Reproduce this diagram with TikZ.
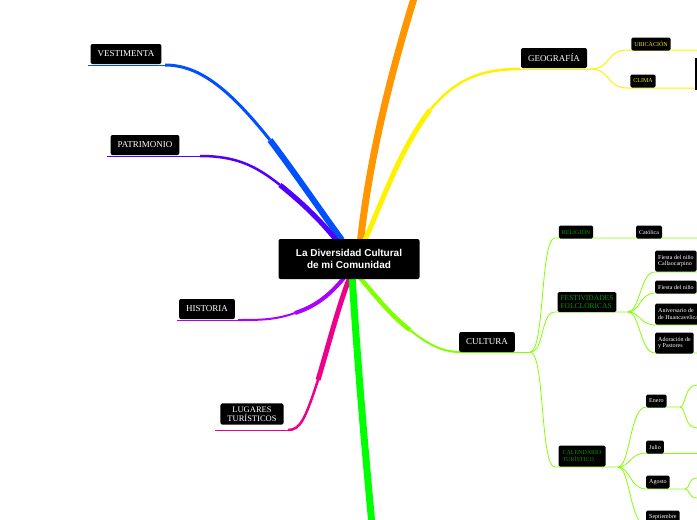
\documentclass[tikz,border=0pt]{standalone}
\usepackage{fontspec}
\setmainfont{Liberation Serif}
\setsansfont{Liberation Sans}
\begin{document}
\begin{tikzpicture}[x=1pt,y=-1pt,
 box/.style={fill=black,rounded corners=2pt,text=white,inner xsep=7pt,inner ysep=3pt,minimum height=20pt,align=center,font=\fontsize{9}{10}\selectfont},
 sbox/.style={fill=black,rounded corners=1.5pt,text=white,inner xsep=3pt,inner ysep=2pt,minimum height=13pt,align=left,font=\fontsize{6}{6.5}\selectfont},
 gbox/.style={sbox,text=green!60!black},
 ybox/.style={sbox,text=yellow!90!orange},
 thin/.style={line width=1pt}]
\useasboundingbox (0,0) rectangle (697,520);
\clip (0,0) rectangle (697,520);
\definecolor{cor}{RGB}{255,150,0}
\definecolor{cbl}{RGB}{0,80,255}
\definecolor{cpu}{RGB}{80,0,255}
\definecolor{cvi}{RGB}{170,0,255}
\definecolor{cli}{RGB}{130,255,0}
% main branches (tapered by two strokes)
\draw[cor,line width=7pt] (360,245) .. controls (370,150) and (395,60) .. (415,-5);
\draw[yellow,line width=5pt] (365,240) .. controls (385,195) and (400,150) .. (430,110);
\draw[yellow,line width=2.5pt] (430,110) .. controls (455,80) and (480,69) .. (520,69);
\draw[yellow,thin] (520,69) -- (590,69);
\draw[cbl,line width=6pt] (342,240) .. controls (320,210) and (300,180) .. (270,140);
\draw[cbl,line width=3pt] (270,140) .. controls (230,90) and (200,65) .. (165,65);
\draw[cbl,thin] (165,65) -- (88,65);
\draw[cpu,line width=5pt] (340,245) .. controls (325,225) and (305,205) .. (280,185);
\draw[cpu,line width=2.5pt] (280,185) .. controls (255,165) and (235,156) .. (200,156);
\draw[cpu,thin] (200,156) -- (107,156);
\draw[cvi,line width=4pt] (350,270) .. controls (335,290) and (320,305) .. (295,313);
\draw[cvi,line width=2pt] (295,313) .. controls (275,320) and (260,320) .. (238,320);
\draw[cvi,thin] (238,320) -- (177,320);
\draw[magenta,line width=5pt] (352,272) .. controls (340,300) and (330,340) .. (318,380);
\draw[magenta,line width=2.5pt] (318,380) .. controls (305,420) and (300,430) .. (288,430);
\draw[magenta,thin] (288,430) -- (215,430);
\draw[green,line width=7pt] (352,275) .. controls (358,370) and (365,450) .. (372,525);
\draw[cli,line width=4.5pt] (355,272) .. controls (375,295) and (390,315) .. (410,330);
\draw[cli,line width=2pt] (410,330) .. controls (425,342) and (440,352) .. (460,352);
\draw[cli,thin] (460,352) -- (530,352);
% center
\node[box,font=\sffamily\bfseries\fontsize{10}{12}\selectfont,inner xsep=9pt,minimum height=40pt,minimum width=141pt] (center) at (349,259) {La Diversidad Cultural\\de mi Comunidad};
% main nodes
\node[box] (vest) at (126,54) {VESTIMENTA};
\node[box] (patr) at (145,145) {PATRIMONIO};
\node[box] (hist) at (207,309) {HISTORIA};
\node[box,font=\fontsize{8.5}{9.5}\selectfont] (lug) at (252,414) {LUGARES\\TURÍSTICOS};
\node[box] (geo) at (554,58) {GEOGRAFÍA};
\node[box] (cult) at (487,342) {CULTURA};
% geography subtree
\begin{scope}[yellow,thin]
\draw (590,69) .. controls (612,69) and (605,50) .. (628,50) -- (697,50);
\draw (590,69) .. controls (612,69) and (605,88) .. (628,88) -- (697,88);
\end{scope}
\node[ybox] (ubi) at (651,44) {UBICACIÓN};
\node[ybox] (clima) at (643,81) {CLIMA};
\fill (695,58) rectangle (697,90);
% culture subtree
\begin{scope}[cli,line width=0.8pt]
\draw (530,352) .. controls (545,352) and (540,238) .. (555,238) -- (697,238);
\draw (530,352) .. controls (545,352) and (540,312) .. (555,312) -- (628,312);
\draw (530,352) .. controls (545,352) and (540,467) .. (555,467) -- (618,467);
\foreach \yy in {272,293,325,353}
 \draw (628,312) .. controls (640,312) and (640,\yy) .. (655,\yy) -- (697,\yy);
\foreach \yy in {407,453,489,525}
 \draw (618,467) .. controls (630,467) and (630,\yy) .. (646,\yy);
\draw (646,407) -- (680,407) .. controls (686,407) and (684,385) .. (697,385);
\draw (680,407) .. controls (686,407) and (684,428) .. (697,428);
\draw (646,453) -- (697,453);
\draw (646,489) -- (685,489) .. controls (690,489) and (688,478) .. (697,478);
\draw (685,489) .. controls (690,489) and (688,498) .. (697,498);
\end{scope}
\node[gbox] (rel) at (576,232) {RELIGIÓN};
\node[sbox] (cat) at (649,232) {Católica};
\node[gbox,font=\fontsize{7.5}{8}\selectfont,minimum height=20pt] (fest) at (587,302) {FESTIVIDADES\\FOLCLÓRICAS};
\node[gbox,minimum height=21pt,inner xsep=4pt] (cal) at (582,456) {CALENDARIO\\TURÍSTICO};
\node[sbox,anchor=west,minimum height=21pt] (f1) at (655,261) {Fiesta del niño\\Callaocarpino};
\node[sbox,anchor=west] (f2) at (655,287) {Fiesta del niño};
\node[sbox,anchor=west,minimum height=21pt] (f3) at (655,314) {Aniversario de\\de Huancavelica};
\node[sbox,anchor=west,minimum height=21pt] (f4) at (655,343) {Adoración de\\y Pastores};
\node[sbox,anchor=west] (ene) at (646,401) {Enero};
\node[sbox,anchor=west] (jul) at (646,447) {Julio};
\node[sbox,anchor=west] (ago) at (646,482) {Agosto};
\node[sbox,anchor=west] (sep) at (646,517) {Septiembre};
\end{tikzpicture}
\end{document}
